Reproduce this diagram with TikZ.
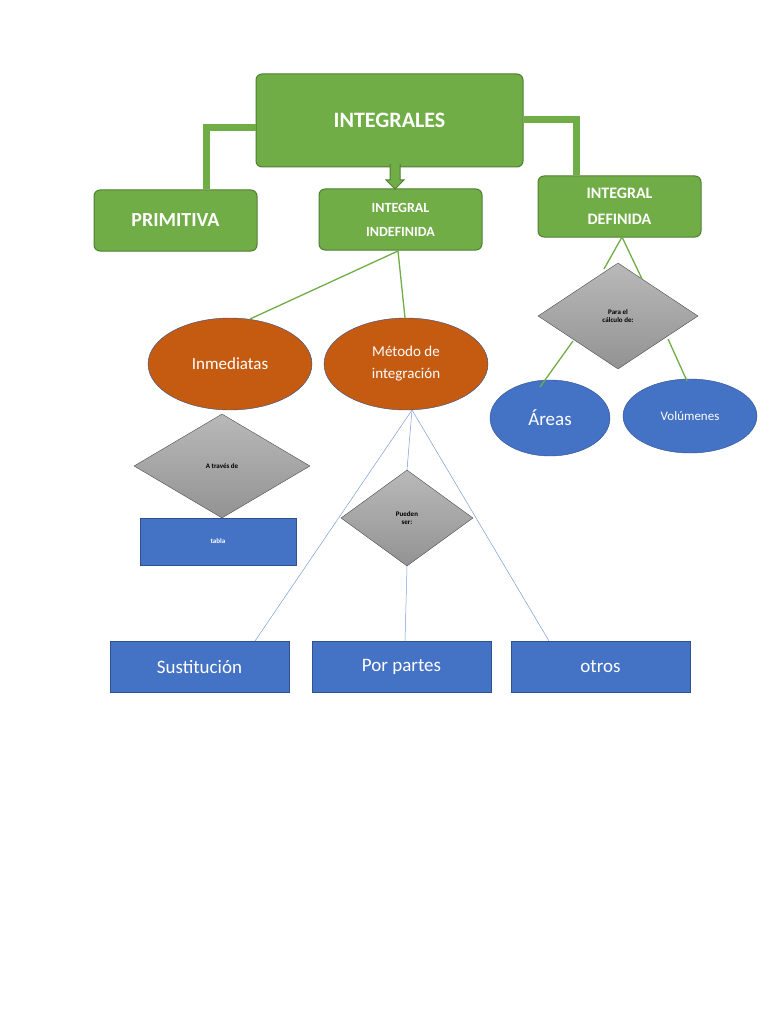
\documentclass[tikz,border=0pt]{standalone}
\usepackage{fontspec}
\setmainfont{Carlito}
\usetikzlibrary{shapes.geometric,arrows.meta}
\definecolor{gfill}{HTML}{70AD47}\definecolor{gline}{HTML}{507E32}
\definecolor{ofill}{HTML}{C55A11}\definecolor{bfill}{HTML}{4472C4}\definecolor{bline}{HTML}{2F528F}
\begin{document}
\begin{tikzpicture}[x=1pt,y=-1pt,
 gbox/.style={draw=gline,fill=gfill,rounded corners=6pt,line width=1pt,text=white,font=\bfseries,align=center,inner sep=0pt},
 oell/.style={ellipse,draw=bline,fill=ofill,text=white,align=center,inner sep=0pt},
 bell/.style={ellipse,draw=bline,fill=bfill,text=white,align=center,inner sep=0pt},
 bbox/.style={draw=bline,fill=bfill,text=white,inner sep=0pt},
 dia/.style={diamond,draw=black!70,top color=gray!55,bottom color=gray!85,text=black,font=\bfseries\scriptsize,align=center,inner sep=0pt,aspect=1.7},
 gl/.style={draw=gfill,line width=1.3pt},
 bl/.style={draw=bfill!70,line width=0.5pt}]
\useasboundingbox (0,0) rectangle (768,1024);
\node[gbox,minimum width=267,minimum height=93,font=\bfseries\fontsize{22}{24}\selectfont] (int) at (389.5,120.5) {INTEGRALES};
\node[gbox,minimum width=163,minimum height=61,font=\bfseries\fontsize{20}{22}\selectfont] (pri) at (175.5,220.5) {PRIMITIVA};
\node[gbox,minimum width=163,minimum height=61,font=\bfseries\fontsize{14}{24}\selectfont] (ind) at (400.5,219.5) {INTEGRAL\\INDEFINIDA};
\node[gbox,minimum width=163,minimum height=61,font=\bfseries\fontsize{16}{26}\selectfont] (def) at (619.5,206.5) {INTEGRAL\\DEFINIDA};
\draw[draw=gfill,line width=7pt] (int.west|-0,128) -| (pri.north-|206,0);
\draw[draw=gfill,line width=7pt] (int.east|-0,120) -| (def.north-|576,0);
\draw[draw=gline,fill=gfill,line width=1pt] (390,164) -- (390,180) -- (386,180) -- (395,189) -- (404,180) -- (400,180) -- (400,164);
\node[oell,minimum width=164,minimum height=92,font=\fontsize{17}{20}\selectfont] (inm) at (230,364) {Inmediatas};
\node[oell,minimum width=164,minimum height=92,font=\fontsize{15}{22}\selectfont] (met) at (406,364) {Método de\\integración};
\coordinate (indb) at (398,251);
\draw[gl] (indb) -- (250,319);
\draw[gl] (indb) -- (405,318);
\node[dia,minimum width=176,minimum height=104] (atr) at (222,466) {A través de};
\node[bbox,minimum width=156,minimum height=47,font=\scriptsize\bfseries] (tab) at (218,541.5) {tabla};
\node[dia,minimum width=132,minimum height=96] (pue) at (407,518) {Pueden\\ser:};
\node[bbox,minimum width=179,minimum height=51,font=\fontsize{19}{22}\selectfont] (sus) at (199.5,666.5) {Sustitución};
\node[bbox,minimum width=179,minimum height=51,font=\fontsize{19}{22}\selectfont] (por) at (401.5,666.5) {Por partes};
\node[bbox,minimum width=179,minimum height=51,font=\fontsize{19}{22}\selectfont] (otr) at (600.5,666.5) {otros};
\coordinate (metb) at (412,410);
\draw[bl] (metb) -- (255,641);
\draw[bl] (metb) -- (pue.north);
\draw[bl] (pue.south) -- (405,641);
\draw[bl] (metb) -- (549,641);
\node[dia,minimum width=160,minimum height=106] (par) at (618,316) {Para el\\cálculo de:};
\node[bell,minimum width=120,minimum height=76,font=\fontsize{19}{22}\selectfont] (are) at (550,418) {Áreas};
\node[bell,minimum width=134,minimum height=74,font=\fontsize{13}{16}\selectfont] (vol) at (690,416) {Volúmenes};
\coordinate (defb) at (622,237);
\draw[gl] (defb) -- (604,269);
\draw[gl] (defb) -- (642,279);
\draw[gl] (573,341) -- (540,387);
\draw[gl] (668,339) -- (687,381);
\end{tikzpicture}
\end{document}
